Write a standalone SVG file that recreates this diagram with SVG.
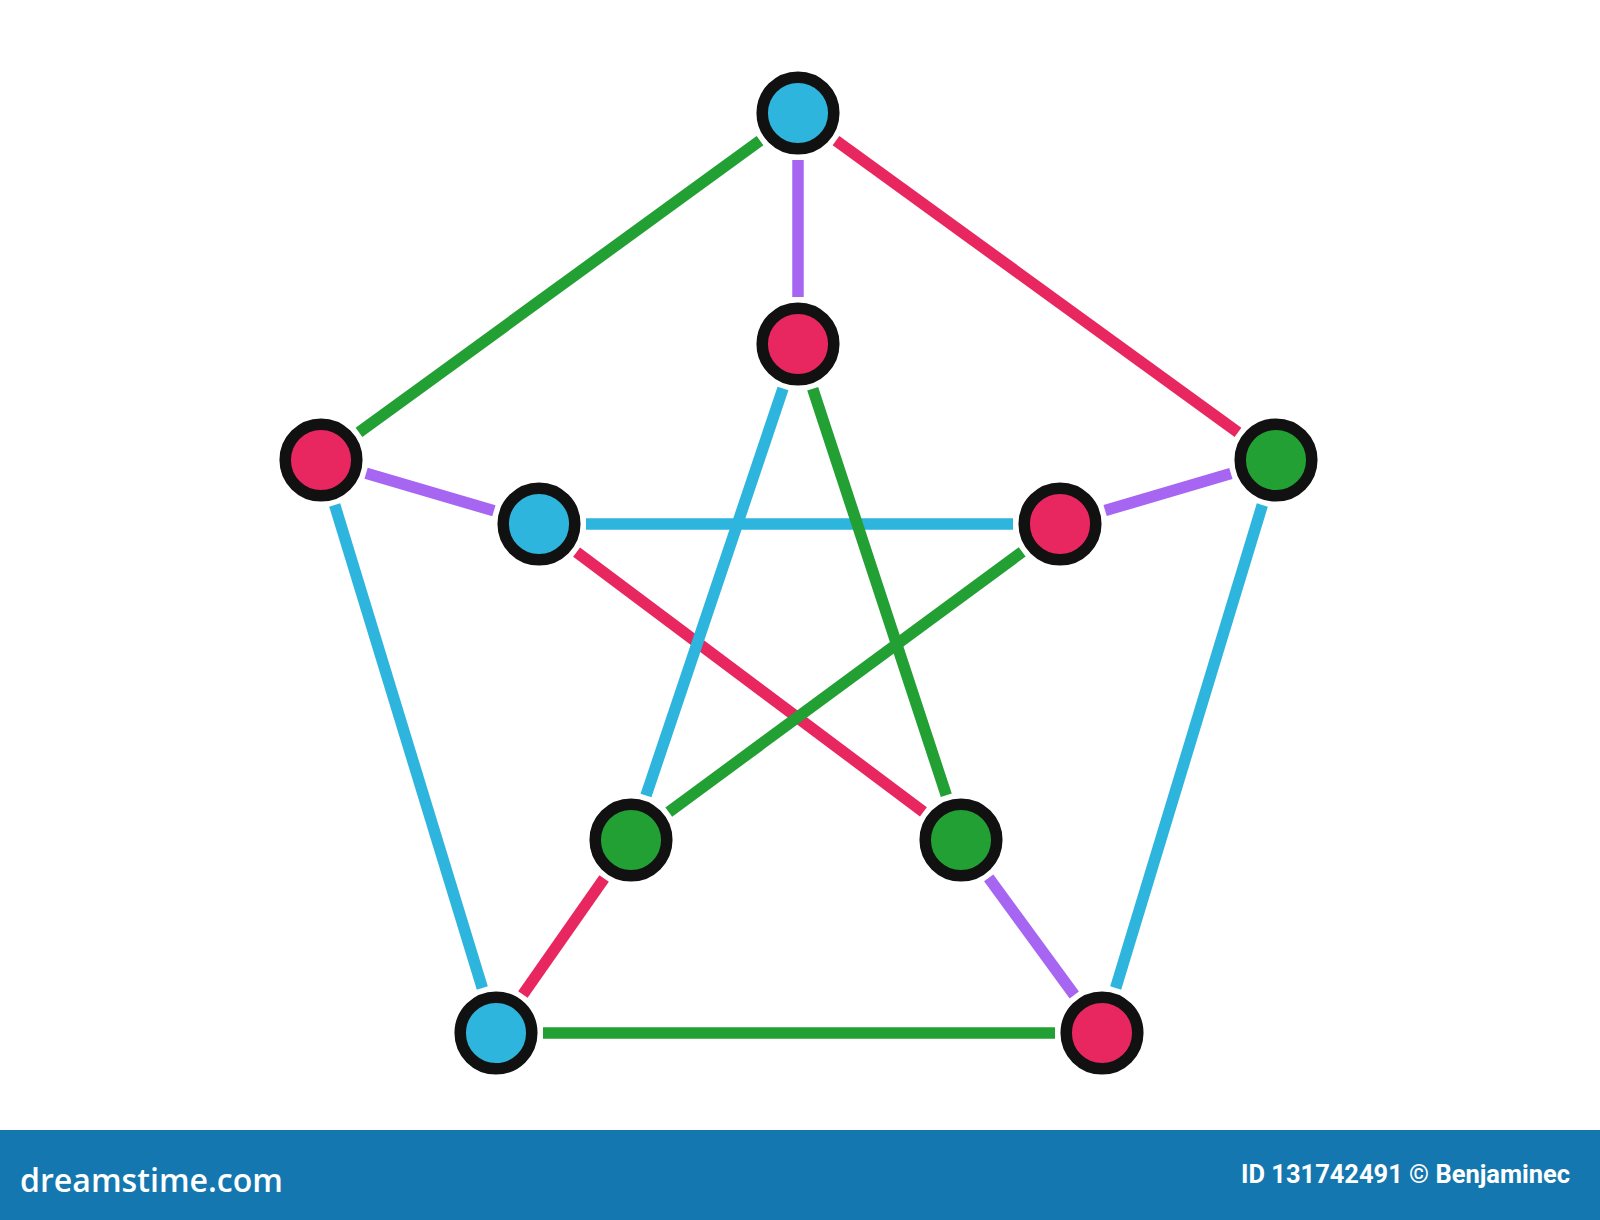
<svg xmlns="http://www.w3.org/2000/svg" width="1600" height="1220" viewBox="0 0 1600 1220">
<style>
.e{stroke-width:11.5;stroke-linecap:butt;fill:none}
.g{stroke:#22a033}.r{stroke:#e8265f}.c{stroke:#2db5de}.p{stroke:#a766f2}
.n{stroke:#111;stroke-width:11.5}
.nc{fill:#2db5de}.nr{fill:#e8265f}.ng{fill:#22a033}
.ft{fill:#fff}
</style>
<rect width="1600" height="1220" fill="#fff"/>
<g id="connectors">
<line class="e g" x1="760" y1="140.6" x2="359" y2="432.4"/>
<line class="e r" x1="836" y1="140.6" x2="1238" y2="432.4"/>
<line class="e c" x1="334.7" y1="505" x2="482.3" y2="988"/>
<line class="e c" x1="1262.3" y1="505" x2="1115.7" y2="988"/>
<line class="e g" x1="543" y1="1033" x2="1055" y2="1033"/>
<line class="e p" x1="798" y1="160" x2="798" y2="297"/>
<line class="e p" x1="366.1" y1="473.2" x2="493.9" y2="510.8"/>
<line class="e p" x1="1230.9" y1="473.4" x2="1105.1" y2="510.6"/>
<line class="e r" x1="522.9" y1="994.5" x2="604.1" y2="878.5"/>
<line class="e p" x1="1074.3" y1="995" x2="988.7" y2="877.9"/>
<line class="e c" x1="586" y1="524" x2="1013" y2="524"/>
<line class="e r" x1="576.6" y1="552.2" x2="923.4" y2="811.8"/>
<line class="e g" x1="1022.2" y1="551.9" x2="668.8" y2="812.1"/>
<line class="e c" x1="783" y1="388.5" x2="646" y2="795.5"/>
<line class="e g" x1="812.7" y1="388.7" x2="946.3" y2="795.3"/>
</g>
<g id="n-top"><circle class="n nc" cx="798" cy="113" r="35.8"/></g>
<g id="n-inner-top"><circle class="n nr" cx="798" cy="344" r="35.8"/></g>
<g id="n-outer-left"><circle class="n nr" cx="321" cy="460" r="35.8"/></g>
<g id="n-outer-right"><circle class="n ng" cx="1276" cy="460" r="35.8"/></g>
<g id="n-inner-left"><circle class="n nc" cx="539" cy="524" r="35.8"/></g>
<g id="n-inner-right"><circle class="n nr" cx="1060" cy="524" r="35.8"/></g>
<g id="n-inner-bottom-left"><circle class="n ng" cx="631" cy="840" r="35.8"/></g>
<g id="n-inner-bottom-right"><circle class="n ng" cx="961" cy="840" r="35.8"/></g>
<g id="n-outer-bottom-left"><circle class="n nc" cx="496" cy="1033" r="35.8"/></g>
<g id="n-outer-bottom-right"><circle class="n nr" cx="1102" cy="1033" r="35.8"/></g>
<g id="footer">
<rect x="0" y="1130" width="1600" height="90" fill="#1477b0"/>
<text class="ft" x="20" y="1192" font-family="'Open Sans', 'DejaVu Sans', sans-serif" font-weight="600" font-size="32" textLength="263" lengthAdjust="spacingAndGlyphs">dreamstime.com</text>
<text class="ft" x="1241" y="1183" font-family="Roboto, 'Liberation Sans', sans-serif" font-weight="bold" font-size="26" textLength="329" lengthAdjust="spacingAndGlyphs">ID 131742491 © Benjaminec</text>
</g>
</svg>
